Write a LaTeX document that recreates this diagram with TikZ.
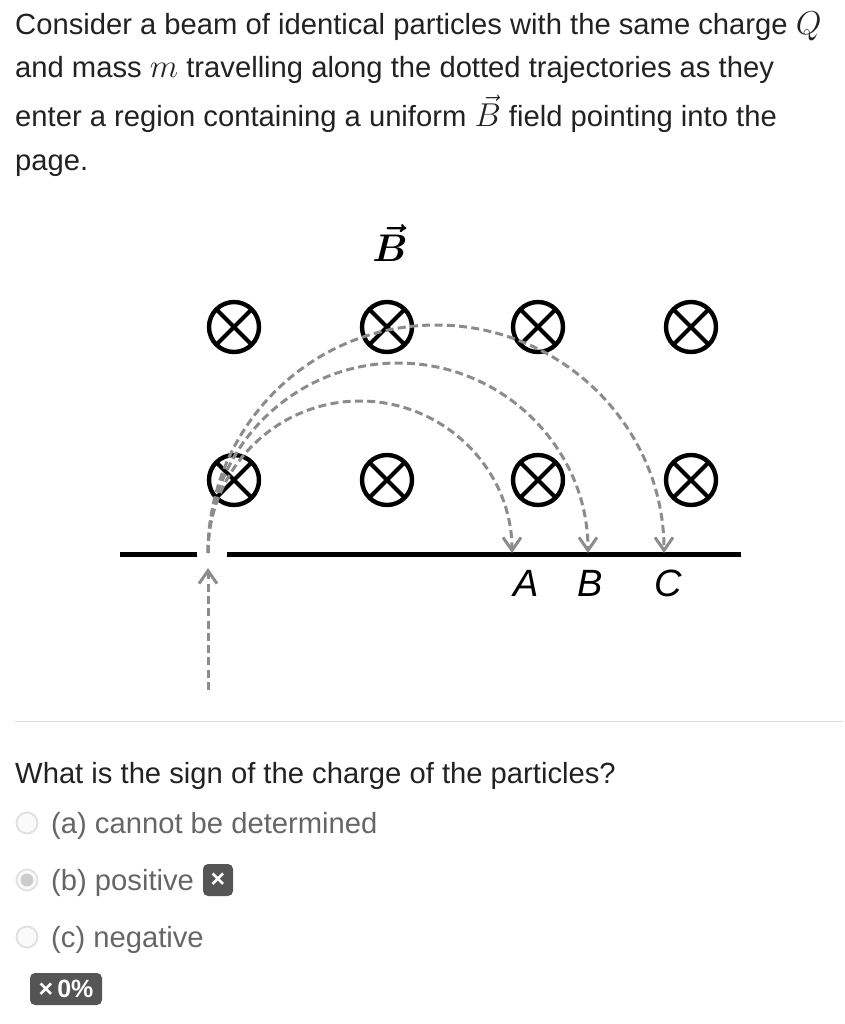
\documentclass[tikz,border=0pt]{standalone}
\usepackage{bm}
\usepackage{fontspec}
\setmainfont{Liberation Sans}
\usetikzlibrary{arrows.meta}
\definecolor{qtext}{HTML}{222222}
\definecolor{opttext}{HTML}{666666}
\definecolor{badge}{HTML}{555555}
\definecolor{radioring}{HTML}{E0E0E0}
\def\fieldin(#1,#2){\draw[line width=4.4pt] (#1,#2) circle (25);
	\draw[line width=4.2pt] (#1-17.5,#2-17.5) -- (#1+17.5,#2+17.5);
	\draw[line width=4.2pt] (#1-17.5,#2+17.5) -- (#1+17.5,#2-17.5);}
\def\qvar#1{\scalebox{1.33}{$#1$}}
\tikzset{
	qline/.style={anchor=base west, inner sep=0pt, text=qtext, font=\fontsize{29.2}{34}\selectfont},
	optline/.style={anchor=base west, inner sep=0pt, text=opttext, font=\fontsize{29.2}{34}\selectfont},
	landing/.style={anchor=base, inner sep=0pt, font=\fontsize{38}{40}\selectfont\itshape},
	trajectory/.style={draw=black!45, line width=3pt, dash pattern=on 8pt off 4.3pt, -{Straight Barb[length=13pt,width=18pt,line width=3pt]}},
	radio/.style={draw=radioring, line width=1.8pt, fill=black!2},
	badgebox/.style={fill=badge, rounded corners=5pt, text=white, inner sep=0pt, font=\fontsize{25}{28}\selectfont\bfseries}
}
\begin{document}
\begin{tikzpicture}[x=1pt,y=1pt]
	\useasboundingbox (0,0) rectangle (844,-1024);
	%%%%% question %%%%%
	\node[qline] (line1) at (15,-35) {Consider a beam of identical particles with the same charge \qvar{Q}};
	\node[qline] (line2) at (15,-78) {and mass \qvar{m} travelling along the dotted trajectories as they};
	\node[qline] (line3) at (15,-127) {enter a region containing a uniform \qvar{\vec{B}} field pointing into the};
	\node[qline] (line4) at (15,-171) {page.};
	
	\node[inner sep=0pt, font=\fontsize{29.2}{34}\selectfont] (fieldlabel) at (390,-243) {\scalebox{1.55}{$\bm{\vec{B}}$}};
	
	%%%%% field %%%%%
	\fieldin(234,-327)
	\fieldin(387,-327)
	\fieldin(538,-327)
	\fieldin(691,-327)
	\fieldin(234,-480)
	\fieldin(387,-480)
	\fieldin(538,-480)
	\fieldin(691,-480)
	
	%%%%% wall %%%%%
	\draw[line width=5pt] (120,-554) -- (197,-554);
	\draw[line width=5pt] (227,-554) -- (741,-554);
	
	%%%%% beam %%%%%
	\coordinate (source) at (208,-690);
	\coordinate (gate) at (208,-568);
	\coordinate (entry) at (208,-553);
	\draw[trajectory] (source) -- (gate);
	\draw[trajectory] (entry) arc (180:0:152);
	\draw[trajectory] (entry) arc (180:0:190);
	\draw[trajectory] (entry) arc (180:0:228);
	
	\node[landing] (labelA) at (526,-596) {A};
	\node[landing] (labelB) at (590,-596) {B};
	\node[landing] (labelC) at (668,-596) {C};
	
	\draw[line width=1pt, color=black!14] (15,-721) -- (843,-721);
	
	%%%%% answers %%%%%
	\node[qline] (ask) at (15,-783) {What is the sign of the charge of the particles?};
	
	\draw[radio] (27,-823) circle (10.5);
	\node[optline] (optA) at (51,-833) {(a) cannot be determined};
	
	\draw[radio] (27,-880) circle (10.5);
	\fill[black!20] (27,-880) circle (6.5);
	\node[optline] (optB) at (51,-890) {(b) positive};
	\node[badgebox, minimum width=30pt, minimum height=32pt] (cross) at (218,-880) {×};
	
	\draw[radio] (27,-937) circle (10.5);
	\node[optline] (optC) at (51,-947) {(c) negative};
	
	\node[badgebox, minimum width=72pt, minimum height=32pt] (score) at (66,-989) {×\,0\%};
\end{tikzpicture}
\end{document}
